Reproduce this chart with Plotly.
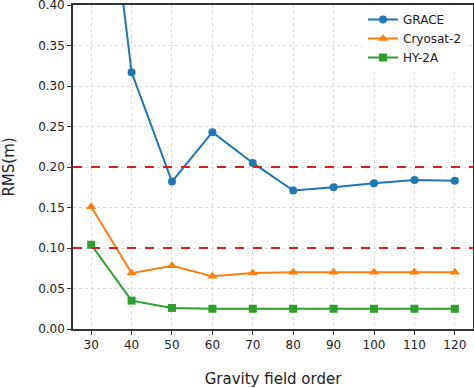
import plotly.graph_objects as go

orders = [30, 40, 50, 60, 70, 80, 90, 100, 110, 120]
grace = [0.73, 0.317, 0.182, 0.243, 0.205, 0.171, 0.175, 0.180, 0.184, 0.183]
cryosat = [0.151, 0.069, 0.078, 0.065, 0.069, 0.070, 0.070, 0.070, 0.070, 0.070]
hy2a = [0.104, 0.035, 0.026, 0.025, 0.025, 0.025, 0.025, 0.025, 0.025, 0.025]
thresholds = [0.10, 0.20]
x_ticks = orders
y_ticks = [0.00, 0.05, 0.10, 0.15, 0.20, 0.25, 0.30, 0.35, 0.40]

fig = go.Figure()
series = [
    ("GRACE", grace, "#1f77b4", "circle", 8),
    ("Cryosat-2", cryosat, "#ff7f0e", "triangle-up", 9),
    ("HY-2A", hy2a, "#2ca02c", "square", 8),
]
for name, vals, color, sym, size in series:
    fig.add_trace(go.Scatter(
        x=orders, y=vals, name=name, mode="lines+markers",
        line=dict(color=color, width=2),
        marker=dict(symbol=sym, size=size, color=color),
        cliponaxis=True,
    ))

for t in thresholds:
    fig.add_shape(type="line", xref="paper", yref="y", x0=0, x1=1, y0=t, y1=t,
                  line=dict(color="#e31a1c", width=2, dash="dash"), layer="above")

# top tick label (sits half outside the page, as in the reference)
top_tick = y_ticks[-1]
fig.add_annotation(x=0, xref="paper", y=top_tick, yref="y", text=f"{top_tick:.2f}",
                   showarrow=False, xanchor="right", yanchor="middle", xshift=-6,
                   font=dict(family="DejaVu Sans", size=12, color="#222222"))

axis_common = dict(
    showline=True, linecolor="#333333", linewidth=1.5, mirror=True,
    ticks="outside", ticklen=4, tickcolor="#333333",
    showgrid=True, gridcolor="#d9d9d9", griddash="dot", gridwidth=1,
    zeroline=False, automargin=False,
    tickfont=dict(family="DejaVu Sans", size=12, color="#222222"),
)

fig.update_layout(
    width=474, height=388,
    margin=dict(l=73, r=1, t=5, b=59),
    paper_bgcolor="white", plot_bgcolor="white",
    font=dict(family="DejaVu Sans", color="#222222"),
    showlegend=True,
    legend=dict(x=0.985, y=1.0, xanchor="right", yanchor="top",
                bgcolor="rgba(255,255,255,0.8)", borderwidth=0,
                font=dict(family="DejaVu Sans", size=12), tracegroupgap=0),
    xaxis=dict(range=[25.5, 124.5], tickvals=x_ticks,
               title=dict(text="Gravity field order", font=dict(size=15), standoff=30),
               **axis_common),
    yaxis=dict(range=[0, 0.40], tickvals=y_ticks, tickformat=".2f",
               title=dict(text="RMS(m)", font=dict(size=15), standoff=20),
               **axis_common),
)

fig.write_html("out.html", config={"displayModeBar": False},
               post_script="document.body.style.margin='0';document.body.style.overflow='hidden';")
